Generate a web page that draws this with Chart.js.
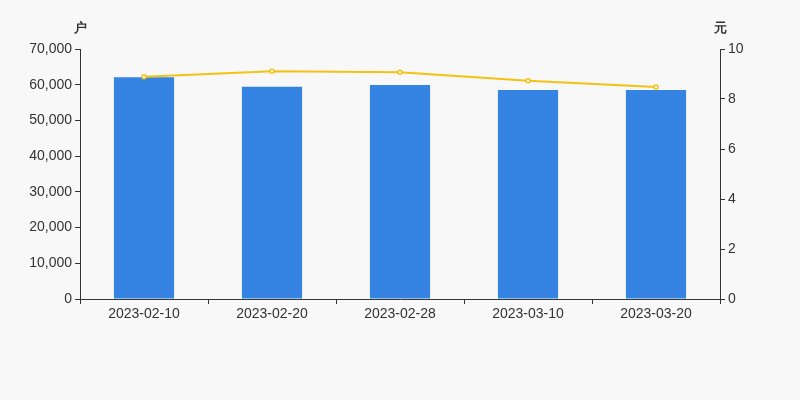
<!DOCTYPE html>
<html>
<head>
<meta charset="utf-8">
<script src="https://cdn.jsdelivr.net/npm/chart.js@4/dist/chart.umd.min.js"></script>
<style>
  html, body { margin: 0; padding: 0; background: #f8f8f8; }
  #wrap { width: 800px; height: 400px; }
</style>
</head>
<body>
<div id="wrap"><canvas id="c"></canvas></div>
<script>
// 数据
const dates = ['2023-02-10', '2023-02-20', '2023-02-28', '2023-03-10', '2023-03-20'];
const holders = [62100, 59400, 59900, 58500, 58550];   // 股东户数 (户)
const prices = [8.89, 9.11, 9.07, 8.73, 8.48];          // 股价 (元)

const axisColor = '#333';
const fontFamily = "'Liberation Sans', Arial, sans-serif";

// 在两个纵轴顶部写单位
const unitPlugin = {
    id: 'units',
    afterDraw(chart) {
        const ctx = chart.ctx;
        ctx.save();
        ctx.fillStyle = '#333';
        ctx.font = 'bold 13px ' + fontFamily;
        ctx.textAlign = 'center';
        ctx.textBaseline = 'middle';
        ctx.fillText('户', chart.scales.y.right, 28);
        ctx.fillText('元', chart.scales.y1.left, 28);
        ctx.restore();
    }
};

new Chart(document.getElementById('c'), {
    data: {
        labels: dates,
        datasets: [{
            type: 'line',
            data: prices,
            yAxisID: 'y1',
            borderColor: '#f5c211',
            borderWidth: 2,
            pointRadius: 2,
            pointBorderWidth: 1.5,
            pointBackgroundColor: '#fff',
            pointBorderColor: '#f5c211',
            tension: 0,
            order: 0
        }, {
            type: 'bar',
            data: holders,
            yAxisID: 'y',
            backgroundColor: '#3583e3',
            barPercentage: 0.47,
            categoryPercentage: 1,
            order: 1
        }]
    },
    options: {
        responsive: true,
        maintainAspectRatio: false,
        animation: false,
        locale: 'en-US',
        layout: { padding: { top: 49, left: 0, right: 0, bottom: 0 } },
        plugins: {
            legend: { display: false },
            tooltip: { enabled: false }
        },
        scales: {
            x: {
                offset: true,
                grid: { offset: true, drawOnChartArea: false, tickLength: 5, color: axisColor },
                border: { color: axisColor },
                ticks: { color: '#333', font: { size: 14, family: fontFamily }, padding: 2, maxRotation: 0 },
                afterFit(s) { s.height = 101; }
            },
            y: {
                position: 'left',
                min: 0, max: 70000,
                grid: { drawOnChartArea: false, tickLength: 5, color: axisColor },
                border: { color: axisColor },
                ticks: { stepSize: 10000, color: '#333', font: { size: 14, family: fontFamily }, padding: 3 },
                afterFit(s) { s.width = 80; }
            },
            y1: {
                position: 'right',
                min: 0, max: 10,
                grid: { drawOnChartArea: false, tickLength: 5, color: axisColor },
                border: { color: axisColor },
                ticks: { stepSize: 2, color: '#333', font: { size: 14, family: fontFamily }, padding: 3 },
                afterFit(s) { s.width = 80; }
            }
        }
    },
    plugins: [unitPlugin]
});
</script>
</body>
</html>
